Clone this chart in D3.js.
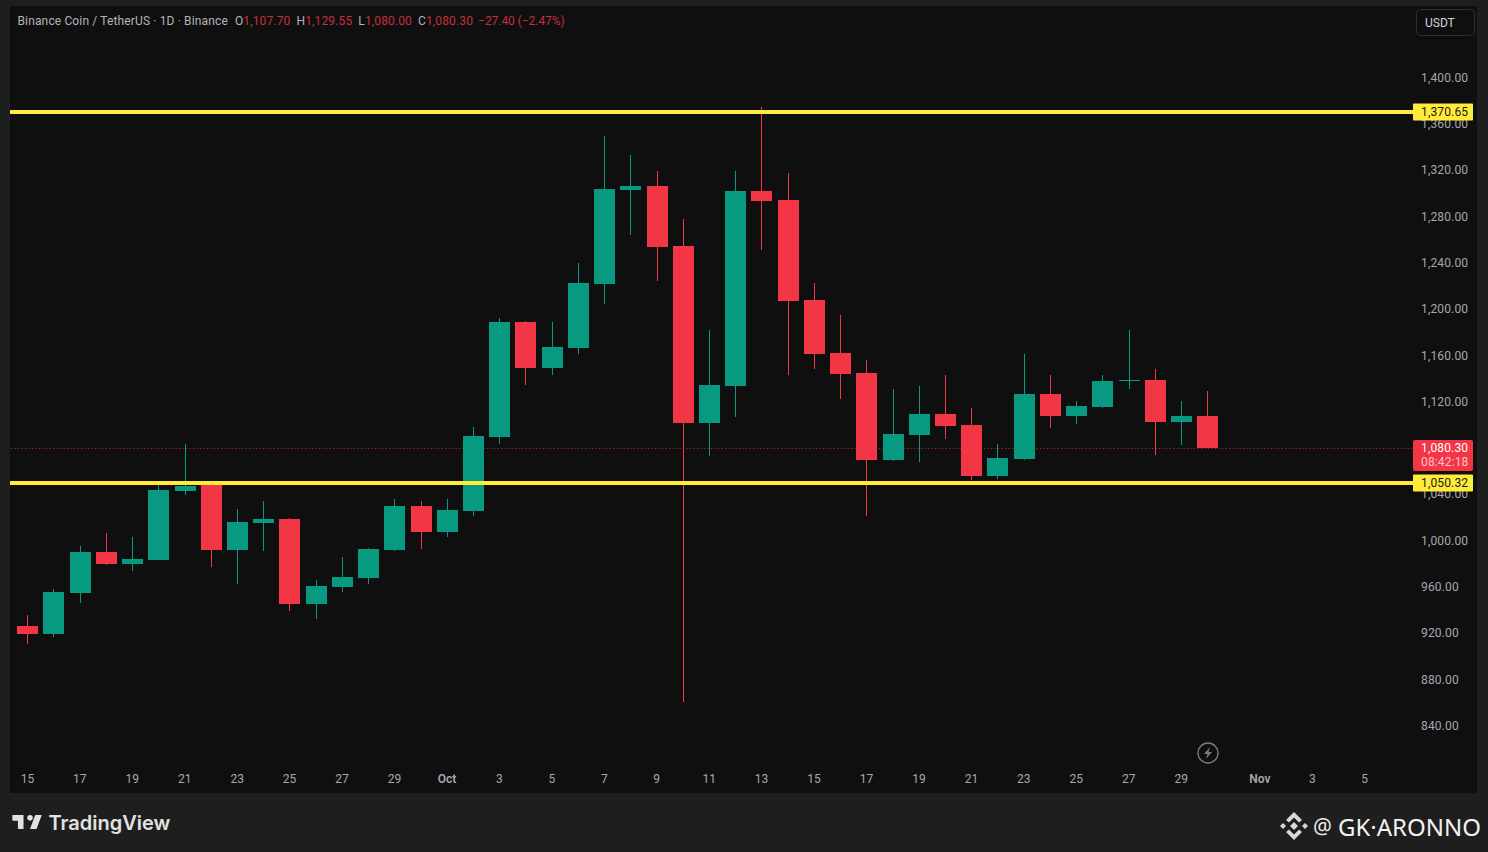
<!DOCTYPE html>
<html lang="en">
<head>
    <meta charset="UTF-8">
    <title>BNB / USDT 1D</title>
    <script src="https://d3js.org/d3.v7.min.js"></script>
    <style>
      html, body { margin: 0; padding: 0; background: #1e1e1e; overflow: hidden; }
      svg { display: block; font-family: Roboto, Arial, sans-serif; }
    </style>
</head>
<body>
<div id="chart"></div>

<script>
// daily candles, 15 Sep - 30 Oct
var dates = ["09-15","09-16","09-17","09-18","09-19","09-20","09-21","09-22","09-23","09-24","09-25","09-26","09-27","09-28","09-29","09-30",
    "10-01","10-02","10-03","10-04","10-05","10-06","10-07","10-08","10-09","10-10","10-11","10-12","10-13","10-14","10-15","10-16","10-17","10-18","10-19","10-20","10-21","10-22","10-23","10-24","10-25","10-26","10-27","10-28","10-29","10-30"];
var opens = [926.4,919.4,954.9,990.3,979.9,983.4,1043.0,1049.1,992.0,1015.4,1018.8,945.4,960.1,967.9,992.0,1030.1,
    1007.6,1025.8,1089.7,1189.1,1149.4,1166.6,1221.9,1303.2,1306.7,1254.8,1101.8,1133.8,1302.3,1294.6,1208.1,1162.3,1145.0,1069.8,1091.4,1109.6,1100.1,1056.0,1070.7,1126.9,1107.9,1115.6,1138.1,1139.0,1102.7,1107.7];
var closes = [919.4,955.8,990.3,979.9,984.3,1043.9,1047.4,992.0,1016.3,1018.8,945.4,960.9,968.7,992.9,1030.1,1007.6,
    1026.6,1090.6,1189.1,1149.4,1167.5,1222.8,1304.1,1306.7,1253.9,1101.8,1134.7,1302.3,1293.7,1207.3,1161.4,1144.2,1069.8,1092.3,1109.6,1099.2,1056.0,1071.6,1126.9,1107.9,1116.5,1138.1,1139.0,1102.7,1107.9,1080.3];
var highs = [935.9,958.4,995.5,1006.7,1003.3,1048.2,1083.7,1050.8,1027.5,1034.4,1019.7,966.1,986.0,993.8,1036.1,1034.4,
    1036.1,1098.4,1192.6,1190.0,1189.1,1240.1,1349.9,1333.4,1319.6,1278.1,1182.2,1319.6,1374.9,1317.9,1222.8,1195.2,1156.3,1131.2,1133.8,1143.3,1114.8,1083.7,1161.4,1143.3,1120.8,1143.3,1182.2,1148.5,1120.8,1129.55];
var lows = [910.8,916.9,946.2,979.1,973.9,983.4,1039.6,977.4,962.7,991.2,939.3,932.4,955.8,962.7,991.2,992.9,
    1003.3,1021.4,1083.7,1134.7,1143.3,1161.4,1204.7,1264.3,1224.5,860.7,1073.3,1107.0,1251.3,1143.3,1148.5,1122.6,1021.4,1069.0,1068.1,1088.0,1052.6,1053.4,1069.8,1097.5,1101.0,1114.8,1131.2,1074.2,1082.8,1080.0];

var priceTicks = [840,880,920,960,1000,1040,1120,1160,1200,1240,1280,1320,1360,1400];
var dateTicks = ["09-15","09-17","09-19","09-21","09-23","09-25","09-27","09-29","10-01","10-03","10-05","10-07","10-09","10-11","10-13","10-15","10-17","10-19","10-21","10-23","10-25","10-27","10-29","11-01","11-03","11-05"];
var dateTickLabels = ["15","17","19","21","23","25","27","29","Oct","3","5","7","9","11","13","15","17","19","21","23","25","27","29","Nov","3","5"];
var levels = [1370.65, 1050.32];
var lastPrice = 1080.30;
var countdown = "08:42:18";

var headerTitle = "Binance Coin / TetherUS · 1D · Binance";
var headerValues = [["O","1,107.70"],["H","1,129.55"],["L","1,080.00"],["C","1,080.30"]];
var headerChange = "−27.40 (−2.47%)";

var width = 1488, height = 852;
var UP = "#089981", DOWN = "#f23645", YELLOW = "#ffeb3b";
var TEXT = "#a6a8ae";

var parseDay = d3.utcParse("%Y-%m-%d");
function toDate(s) { return parseDay("2025-" + s); }

var x = d3.scaleUtc().domain([toDate("09-15"), toDate("10-30")]).range([27.2, 1207.2]);
var y = d3.scaleLinear().domain([840, 1400]).range([726, 78]);

var svg = d3.select("#chart").append("svg")
    .attr("width", width)
    .attr("height", height);

svg.append("rect").attr("width", width).attr("height", height).attr("fill", "#1e1e1e");
svg.append("rect")
    .attr("x", 10).attr("y", 6).attr("width", 1467).attr("height", 787)
    .attr("fill", "#0f0f0f");

// last price line sits under the candles
svg.append("line")
    .attr("x1", 11).attr("x2", 1413)
    .attr("y1", Math.round(y(lastPrice)) + 0.5).attr("y2", Math.round(y(lastPrice)) + 0.5)
    .attr("stroke", DOWN).attr("stroke-opacity", 0.65)
    .attr("stroke-dasharray", "1.2 2.3");

var candles = dates.map(function(d, i) {
    return { date: toDate(d), o: opens[i], h: highs[i], l: lows[i], c: closes[i] };
});

var g = svg.append("g").selectAll("g").data(candles).enter().append("g")
    .attr("fill", function(d) { return d.c >= d.o ? UP : DOWN; })
    .attr("stroke", function(d) { return d.c >= d.o ? UP : DOWN; });

g.append("line")
    .attr("x1", function(d) { return Math.round(x(d.date)) + 0.5; })
    .attr("x2", function(d) { return Math.round(x(d.date)) + 0.5; })
    .attr("y1", function(d) { return Math.round(y(d.h)); })
    .attr("y2", function(d) { return Math.round(y(d.l)); });

g.append("rect")
    .attr("stroke", "none")
    .attr("x", function(d) { return Math.round(x(d.date)) - 10; })
    .attr("width", 21)
    .attr("y", function(d) { return Math.round(y(Math.max(d.o, d.c))); })
    .attr("height", function(d) { return Math.max(1, Math.round(y(Math.min(d.o, d.c))) - Math.round(y(Math.max(d.o, d.c)))); });

// axes
var yAxis = d3.axisRight(y).tickValues(priceTicks).tickSize(0).tickFormat(d3.format(",.2f"));
var yAxisG = svg.append("g").attr("transform", "translate(1421,-0.5)").call(yAxis);
yAxisG.select(".domain").remove();
yAxisG.selectAll("text")
    .attr("x", 0)
    .attr("fill", TEXT)
    .style("font-size", "12px")
    .style("font-family", "Roboto")
    .style("letter-spacing", "0.15px");

var xAxis = d3.axisBottom(x)
    .tickValues(dateTicks.map(toDate))
    .tickSize(0)
    .tickFormat(function(d, i) { return dateTickLabels[i]; });
var xAxisG = svg.append("g").attr("transform", "translate(-0.3,773)").call(xAxis);
xAxisG.select(".domain").remove();
xAxisG.selectAll("text")
    .attr("y", 0).attr("dy", "0.8em")
    .attr("fill", TEXT)
    .style("font-size", "12px")
    .style("font-family", "Roboto")
    .style("font-weight", function(d, i) { return dateTickLabels[i] == "Oct" || dateTickLabels[i] == "Nov" ? 600 : 400; });

// horizontal levels and their labels
svg.append("g").selectAll("line").data(levels).enter().append("line")
    .attr("x1", 10).attr("x2", 1414)
    .attr("y1", function(d) { return Math.round(y(d)); })
    .attr("y2", function(d) { return Math.round(y(d)); })
    .attr("stroke", YELLOW).attr("stroke-width", 4);

var levelLabels = svg.append("g").selectAll("g").data(levels).enter().append("g")
    .attr("transform", function(d) { return "translate(1413," + Math.round(y(d)) + ")"; });
levelLabels.append("rect")
    .attr("x", 0).attr("y", -8.5).attr("width", 60).attr("height", 17).attr("rx", 1)
    .attr("fill", YELLOW);
levelLabels.append("text")
    .attr("x", 8).attr("y", 0).attr("dy", "0.35em")
    .attr("fill", "#1a1a10")
    .style("font-size", "12px")
    .style("letter-spacing", "0.15px")
    .text(function(d) { return d3.format(",.2f")(d); });

// countdown box
var lastY = Math.round(y(lastPrice));
svg.append("rect")
    .attr("x", 1413).attr("y", lastY - 8).attr("width", 60).attr("height", 31).attr("rx", 2)
    .attr("fill", DOWN);
svg.append("text")
    .attr("x", 1421).attr("y", lastY).attr("dy", "0.35em")
    .attr("fill", "#ffffff")
    .style("font-size", "12px").style("letter-spacing", "0.15px")
    .text(d3.format(",.2f")(lastPrice));
svg.append("text")
    .attr("x", 1421).attr("y", lastY + 14).attr("dy", "0.35em")
    .attr("fill", "#ffc4ca")
    .style("font-size", "12px").style("letter-spacing", "0.15px")
    .text(countdown);

// header
var header = svg.append("text")
    .attr("x", 17.5).attr("y", 24.5)
    .style("font-size", "12px")
    .style("letter-spacing", "0.14px")
    .attr("fill", "#b2b5be");
header.append("tspan").text(headerTitle);
headerValues.forEach(function(v, i) {
    header.append("tspan").attr("dx", i == 0 ? 7 : 6).attr("fill", "#b2b5be").text(v[0]);
    header.append("tspan").attr("fill", "#c4303d").text(v[1]);
});
header.append("tspan").attr("dx", 5).attr("fill", "#c4303d").style("letter-spacing", "-0.05px").text(headerChange);

// currency button
svg.append("rect")
    .attr("x", 1416.5).attr("y", 9.5).attr("width", 58).attr("height", 26).attr("rx", 4)
    .attr("fill", "none").attr("stroke", "#2e2e2e");
svg.append("text")
    .attr("x", 1425).attr("y", 27)
    .attr("fill", "#d1d4dc").style("font-size", "12px")
    .text("USDT");

// lightning icon
var bolt = svg.append("g").attr("transform", "translate(1208,753)");
bolt.append("circle").attr("r", 10).attr("fill", "none").attr("stroke", "#7d7d7d").attr("stroke-width", 1.3);
bolt.append("path").attr("d", "M2,-6 L-4,1 L-0.5,1 L-2,6 L4,-1 L0.5,-1 Z").attr("fill", "#7d7d7d");

// TradingView logo
svg.append("path")
    .attr("transform", "translate(10.5,809.5) scale(0.93)")
    .attr("d", "M14 6H2v6h6v9h6V6Zm14 15h-7l5.6-15h7L28 21Zm-7-9a3 3 0 1 0 0-6 3 3 0 0 0 0 6Z")
    .attr("fill", "#e2e2e2");
svg.append("text")
    .attr("x", 48.5).attr("y", 830)
    .attr("fill", "#e2e2e2")
    .style("font-family", "Inter")
    .style("font-size", "20px")
    .style("font-weight", 600)
    .text("TradingView");

// Binance mark and handle
var mark = svg.append("g").attr("transform", "translate(1294,826)").attr("fill", "#d8d8d8");
mark.append("path").attr("d", "M0,-4 L4,0 L0,4 L-4,0 Z");
mark.append("path").attr("d", "M-14,0 L-11,-3 L-8,0 L-11,3 Z");
mark.append("path").attr("d", "M14,0 L11,-3 L8,0 L11,3 Z");
mark.append("path").attr("d", "M0,-14 L8,-6 L5,-3.5 L0,-8.5 L-5,-3.5 L-8,-6 Z");
mark.append("path").attr("d", "M0,14 L8,6 L5,3.5 L0,8.5 L-5,3.5 L-8,6 Z");
svg.append("text")
    .attr("x", 1313).attr("y", 834)
    .attr("fill", "#e8e8e8")
    .style("font-family", "'Noto Sans'")
    .style("font-size", "21px")
    .text("@");
svg.append("text")
    .attr("x", 1338).attr("y", 836)
    .attr("fill", "#f2f2f2")
    .style("font-family", "'Noto Sans'")
    .style("font-size", "24px")
    .text("GK·ARONNO");
</script>
</body>
</html>
